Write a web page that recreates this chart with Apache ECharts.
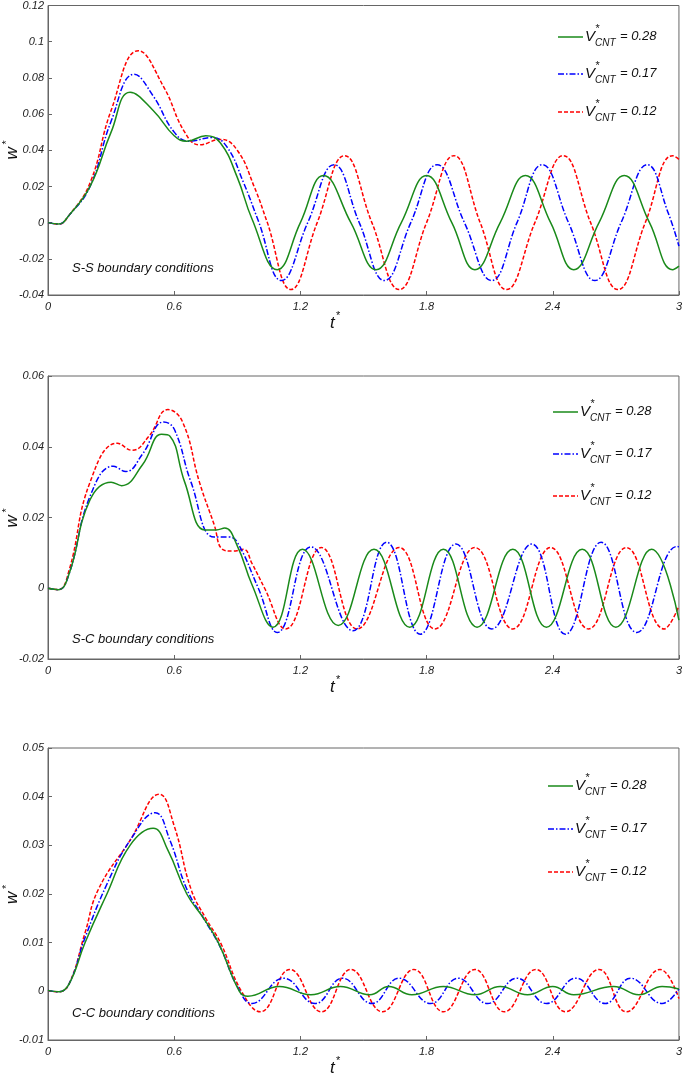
<!DOCTYPE html>
<html>
<head>
<meta charset="utf-8">
<script src="https://cdn.jsdelivr.net/npm/echarts@6/dist/echarts.min.js"></script>
<style>html,body{margin:0;padding:0;background:#fff}#main{width:685px;height:1073px}</style>
</head>
<body>
<div id="main"></div>
<script>
// values, [t*, w*]
const ssGreen = [[0,0],[0.05,-0.0008],[0.1,0.004],[0.2,0.02],[0.3,0.05],[0.39,0.072],[0.5,0.062],[0.6,0.048],[0.66,0.045],[0.75,0.048],[0.82,0.044],[0.9,0.025],[0.97,0.002],[1.09,-0.026],[1.2,0],[1.31,0.026],[1.44,0],[1.56,-0.026],[1.68,0],[1.80,0.026],[1.92,0],[2.03,-0.026],[2.15,0],[2.27,0.026],[2.39,0],[2.50,-0.026],[2.62,0],[2.74,0.026],[2.86,0],[2.97,-0.026],[3,-0.024]];
const ssBlue = [[0,0],[0.05,-0.0008],[0.1,0.004],[0.2,0.02],[0.3,0.056],[0.41,0.082],[0.5,0.07],[0.6,0.05],[0.67,0.045],[0.78,0.047],[0.85,0.042],[0.93,0.022],[1.0,0.001],[1.11,-0.032],[1.235,0],[1.36,0.032],[1.48,0],[1.60,-0.032],[1.725,0],[1.85,0.032],[1.98,0],[2.11,-0.032],[2.23,0],[2.35,0.032],[2.475,0],[2.60,-0.032],[2.725,0],[2.85,0.032],[2.95,0.005],[3,-0.013]];
const ssRed = [[0,0],[0.05,-0.0008],[0.1,0.004],[0.2,0.022],[0.3,0.062],[0.43,0.095],[0.55,0.075],[0.65,0.05],[0.72,0.043],[0.82,0.046],[0.9,0.04],[0.98,0.02],[1.04,0.001],[1.155,-0.037],[1.28,0],[1.41,0.037],[1.54,0],[1.67,-0.037],[1.80,0],[1.93,0.037],[2.055,0],[2.18,-0.037],[2.315,0],[2.45,0.037],[2.58,0],[2.71,-0.037],[2.84,0],[2.97,0.037],[3,0.035]];

const scGreen = [[0,0],[0.05,-0.0004],[0.1,0.004],[0.2,0.025],[0.3,0.03],[0.35,0.029],[0.45,0.035],[0.54,0.0435],[0.58,0.043],[0.65,0.03],[0.745,0.0165],[0.8,0.0165],[0.84,0.017],[0.9,0.012],[0.97,0.001],[1.07,-0.011],[1.21,0.011],[1.38,-0.0105],[1.55,0.011],[1.72,-0.011],[1.88,0.011],[2.04,-0.011],[2.21,0.011],[2.37,-0.011],[2.54,0.011],[2.70,-0.011],[2.87,0.011],[3,-0.009]];
const scBlue = [[0,0],[0.05,-0.0004],[0.1,0.004],[0.2,0.026],[0.31,0.0345],[0.37,0.033],[0.45,0.038],[0.55,0.047],[0.6,0.045],[0.68,0.03],[0.79,0.0145],[0.86,0.0145],[0.9,0.013],[1.0,0.0],[1.09,-0.0125],[1.25,0.0117],[1.45,-0.012],[1.61,0.013],[1.77,-0.013],[1.94,0.0125],[2.11,-0.0115],[2.30,0.0125],[2.46,-0.013],[2.63,0.013],[2.80,-0.0125],[2.99,0.0118],[3,0.0117]];
const scRed = [[0,0],[0.05,-0.0004],[0.1,0.005],[0.2,0.03],[0.33,0.041],[0.4,0.039],[0.48,0.043],[0.57,0.0505],[0.64,0.047],[0.72,0.03],[0.79,0.018],[0.83,0.011],[0.88,0.0105],[0.93,0.011],[0.97,0.007],[1.03,0.0],[1.13,-0.0115],[1.30,0.0115],[1.47,-0.0115],[1.67,0.0115],[1.84,-0.0115],[2.03,0.0115],[2.21,-0.0115],[2.39,0.0115],[2.57,-0.0115],[2.75,0.0115],[2.93,-0.0115],[3,-0.005]];

const ccGreen = [[0,0.0002],[0.05,-0.0001],[0.1,0.0015],[0.176,0.01],[0.28,0.02],[0.39,0.03],[0.5,0.0335],[0.57,0.029],[0.66,0.02],[0.74,0.015],[0.81,0.01],[0.91,0.0],[0.95,-0.001],[1.10,0.001],[1.25,-0.0007],[1.39,0.001],[1.53,-0.0007],[1.62,0.001],[1.73,-0.0007],[1.88,0.001],[2.03,-0.0007],[2.15,0.001],[2.28,-0.0007],[2.40,0.001],[2.50,-0.0007],[2.69,0.001],[2.81,-0.0007],[2.92,0.001],[3,0.0005]];
const ccBlue = [[0,0.0002],[0.05,-0.0001],[0.1,0.0015],[0.176,0.011],[0.28,0.022],[0.39,0.031],[0.51,0.0367],[0.58,0.031],[0.66,0.021],[0.74,0.015],[0.82,0.009],[0.9,0.001],[0.97,-0.0025],[1.12,0.0027],[1.27,-0.0025],[1.40,0.0027],[1.54,-0.0025],[1.67,0.0027],[1.82,-0.0025],[1.95,0.0027],[2.09,-0.0025],[2.23,0.0027],[2.37,-0.0025],[2.51,0.0027],[2.65,-0.0025],[2.77,0.0027],[2.92,-0.0025],[3,0.0005]];
const ccRed = [[0,0.0002],[0.05,-0.0001],[0.1,0.0015],[0.176,0.012],[0.24,0.021],[0.39,0.031],[0.53,0.0405],[0.6,0.034],[0.68,0.021],[0.75,0.015],[0.82,0.01],[0.92,0.0],[1.01,-0.0042],[1.15,0.0045],[1.30,-0.0042],[1.44,0.0045],[1.59,-0.0042],[1.74,0.0045],[1.88,-0.0042],[2.03,0.0045],[2.17,-0.0042],[2.32,0.0045],[2.46,-0.0042],[2.62,0.0045],[2.75,-0.0042],[2.91,0.0045],[3,-0.0015]];

const xTicks = [0, 0.6, 1.2, 1.8, 2.4, 3];
const legendText = ['= 0.28', '= 0.17', '= 0.12'];
const panelNames = ['S-S boundary conditions', 'S-C boundary conditions', 'C-C boundary conditions'];

const font = 'Liberation Sans, Arial, sans-serif';
const colors = ['#1a8a1a', '#0000ff', '#ff0000'];
const lineTypes = ['solid', [6, 2, 1.5, 2], [4, 2]];

const panels = [
	{top: 4, height: 291, min: -0.04, max: 0.12, interval: 0.02, data: [ssGreen, ssBlue, ssRed], leg: {x: 558, y: [37, 74, 112]}, note: 270},
	{top: 376, height: 283, min: -0.02, max: 0.06, interval: 0.02, data: [scGreen, scBlue, scRed], leg: {x: 553, y: [412, 454, 496]}, note: 641},
	{top: 748, height: 292, min: -0.01, max: 0.05, interval: 0.01, data: [ccGreen, ccBlue, ccRed], leg: {x: 548, y: [786, 829, 872]}, note: 1015}
];

let grid = [], xAxis = [], yAxis = [], series = [], graphic = [];

panels.forEach((p, i) => {
	grid.push({left: 48, width: 633, top: p.top, height: p.height, show: true, borderColor: '#666', borderWidth: 1});
	xAxis.push({
		type: 'value', gridIndex: i, min: 0, max: 3, interval: 0.6,
		axisLine: {onZero: false, lineStyle: {color: '#666'}},
		axisTick: {inside: true, length: 4, lineStyle: {color: '#666'}},
		splitLine: {show: false},
		axisLabel: {fontFamily: font, fontStyle: 'italic', fontSize: 11, color: '#222', margin: 6,
			formatter: v => xTicks.indexOf(+v.toFixed(1)) >= 0 ? String(+v.toFixed(1)) : ''}
	});
	yAxis.push({
		type: 'value', gridIndex: i, min: p.min, max: p.max, interval: p.interval,
		axisLine: {show: true, onZero: false, lineStyle: {color: '#666'}},
		axisTick: {show: true, inside: true, length: 4, lineStyle: {color: '#666'}},
		splitLine: {show: false},
		axisLabel: {fontFamily: font, fontStyle: 'italic', fontSize: 11, color: '#222', margin: 4,
			formatter: v => String(+v.toFixed(3))}
	});
	p.data.forEach((d, k) => {
		series.push({
			type: 'line', xAxisIndex: i, yAxisIndex: i, data: d, smooth: 0.45,
			showSymbol: false, animation: false, z: 3 - k,
			lineStyle: {color: colors[k], width: 1.5, type: lineTypes[k]}
		});
		// legend entry
		let lx = p.leg.x, ly = p.leg.y[k];
		graphic.push(
			{type: 'line', shape: {x1: lx, y1: ly, x2: lx + 25, y2: ly}, style: {stroke: colors[k], lineWidth: 1.5, lineDash: k == 0 ? null : lineTypes[k]}},
			{type: 'text', x: lx + 27, y: ly - 8, style: {text: 'V', font: 'italic 15px ' + font, fill: '#111'}},
			{type: 'text', x: lx + 37, y: ly - 14, style: {text: '*', font: 'italic 11px ' + font, fill: '#111'}},
			{type: 'text', x: lx + 37, y: ly + 1, style: {text: 'CNT', font: 'italic 10px ' + font, fill: '#111'}},
			{type: 'text', x: lx + 62, y: ly - 7, style: {text: legendText[k], font: 'italic 13px ' + font, fill: '#111'}}
		);
	});
	graphic.push(
		{type: 'text', x: 72, y: p.note - 8, style: {text: panelNames[i], font: 'italic 13px ' + font, fill: '#111'}},
		{type: 'text', x: 330, y: p.top + p.height + 20, style: {text: 't', font: 'italic 17px ' + font, fill: '#111'}},
		{type: 'text', x: 336, y: p.top + p.height + 15, style: {text: '*', font: '11px ' + font, fill: '#111'}},
		{type: 'text', x: 4, y: p.top + p.height / 2 + 10, rotation: Math.PI / 2, style: {text: 'w', font: 'italic 17px ' + font, fill: '#111'}},
		{type: 'text', x: 1, y: p.top + p.height / 2 - 5, rotation: Math.PI / 2, style: {text: '*', font: '11px ' + font, fill: '#111'}}
	);
});

const myChart = echarts.init(document.getElementById('main'));
myChart.setOption({animation: false, grid, xAxis, yAxis, series, graphic});
</script>
</body>
</html>
